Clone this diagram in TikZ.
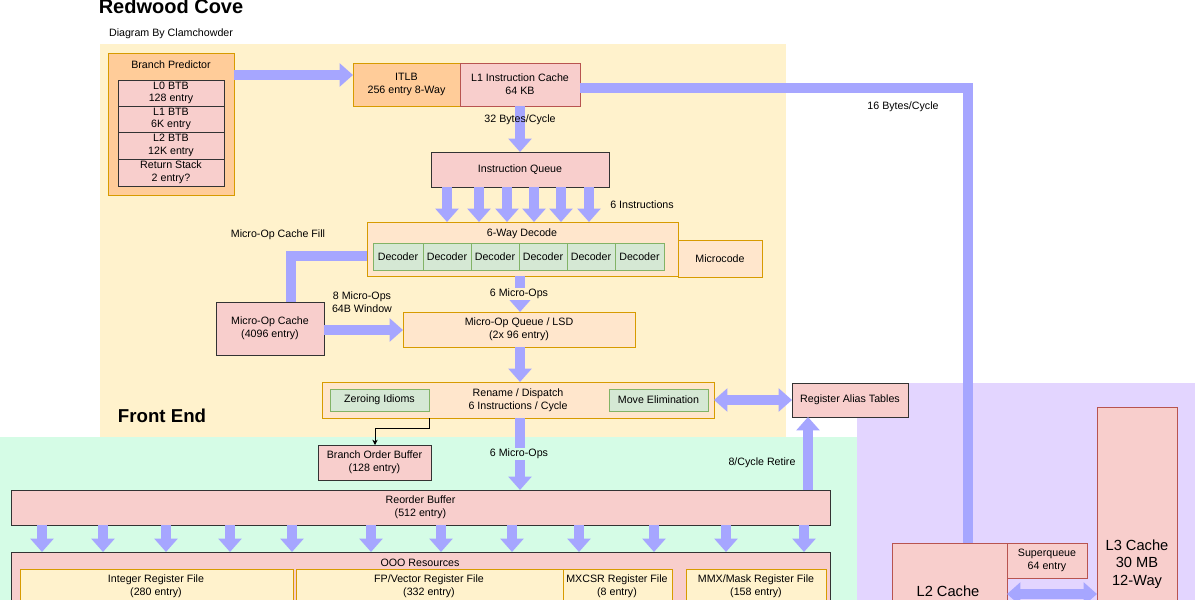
\documentclass[tikz,border=0pt]{standalone}
\usepackage{fontspec}
\setmainfont{Liberation Sans}
\usetikzlibrary{arrows.meta}
\definecolor{ybg}{HTML}{FFF2CC}
\definecolor{gbg}{HTML}{D5FCE6}
\definecolor{pbg}{HTML}{E3D5FF}
\definecolor{pk}{HTML}{F8CECC}
\definecolor{pkd}{HTML}{B85450}
\definecolor{org}{HTML}{FFCC99}
\definecolor{orl}{HTML}{FFE6CC}
\definecolor{ord}{HTML}{D79B00}
\definecolor{grn}{HTML}{D5E8D4}
\definecolor{grd}{HTML}{82B366}
\definecolor{arr}{HTML}{A6A6FF}
\newcommand\bx[7]{\node[#6,minimum width={(#4-#2)*0.75pt},minimum height={(#5-#3)*0.75pt}] (#1) at ({(#2+#4)/2},{(#3+#5)/2}) {#7};}
\begin{document}
\begin{tikzpicture}[x=0.75pt,y=-0.75pt,
  every node/.style={inner sep=0pt,outer sep=0pt,align=center,font=\fontsize{8}{9.5}\selectfont},
  base/.style={draw,line width=0.75pt},
  pink/.style={base,fill=pk,draw=pkd},
  pinkb/.style={base,fill=pk,draw=black!80},
  orng/.style={base,fill=org,draw=ord},
  lor/.style={base,fill=orl,draw=ord},
  yel/.style={base,fill=ybg,draw=ord},
  gr/.style={base,fill=grn,draw=grd},
  fat/.style={arr,line width=7.5pt,-{Triangle[width=17pt,length=10pt]}},
  fatd/.style={arr,line width=7.5pt,{Triangle[width=17pt,length=10pt]}-{Triangle[width=17pt,length=10pt]}},
  fatl/.style={arr,line width=7.5pt},
  lbl/.style={font=\fontsize{8}{9.5}\selectfont}]
\useasboundingbox (0,0) rectangle (1200,600);
\clip (0,0) rectangle (1200,600);
\fill[white] (0,0) rectangle (1200,600);
% backgrounds
\fill[ybg] (100,44) rectangle (786,437);
\fill[gbg] (0,437) rectangle (857,600);
\fill[pbg] (857,383) rectangle (1195,600);
\node[font=\bfseries\fontsize{15}{15}\selectfont] (title) at (171,6) {Redwood Cove};
\node (credit) at (171,34) {Diagram By Clamchowder};
\node[font=\bfseries\fontsize{14}{14}\selectfont] (fe) at (162,416) {Front End};
% branch predictor
\bx{bp}{108}{53}{234}{195}{orng}{}
\node at (171,65) {Branch Predictor};
\bx{l0}{118}{80}{224}{106}{pinkb}{L0 BTB\\128 entry}
\bx{l1}{118}{106}{224}{132}{pinkb}{L1 BTB\\6K entry}
\bx{l2b}{118}{132}{224}{159}{pinkb}{L2 BTB\\12K entry}
\bx{rs}{118}{159}{224}{186}{pinkb}{Return Stack\\2 entry?}
% fetch
\bx{itlb}{353}{63}{460}{106}{orng}{ITLB\\256 entry 8-Way}
\bx{l1i}{460}{63}{580}{106}{pink}{L1 Instruction Cache\\64 KB}
\bx{iq}{431}{152}{609}{187}{pinkb}{Instruction Queue}
\bx{dec}{367}{222}{678}{276}{lor}{}
\node at (522,234) {6-Way Decode};
\bx{d1}{373}{243}{423}{270}{gr}{Decoder}
\bx{d2}{423}{243}{471}{270}{gr}{Decoder}
\bx{d3}{471}{243}{519}{270}{gr}{Decoder}
\bx{d4}{519}{243}{567}{270}{gr}{Decoder}
\bx{d5}{567}{243}{615}{270}{gr}{Decoder}
\bx{d6}{615}{243}{664}{270}{gr}{Decoder}
\bx{mc}{678}{240}{762}{277}{lor}{Microcode}
\bx{uoc}{216}{302}{324}{355}{pinkb}{Micro-Op Cache\\(4096 entry)}
\bx{uoq}{403}{312}{635}{347}{lor}{Micro-Op Queue / LSD\\(2x 96 entry)}
\bx{ren}{322}{382}{714}{418}{lor}{Rename / Dispatch\\6 Instructions / Cycle}
\bx{zi}{330}{389}{429}{411}{gr}{Zeroing Idioms}
\bx{me}{609}{389}{708}{411}{gr}{Move Elimination}
\bx{rat}{792}{383}{908}{417}{pinkb}{Register Alias Tables}
\bx{bob}{318}{445}{431}{480}{pinkb}{Branch Order Buffer\\(128 entry)}
\bx{rob}{11}{490}{830}{525}{pinkb}{Reorder Buffer\\(512 entry)}
\bx{ooo}{11}{552}{830}{640}{pinkb}{}
\node at (420,563) {OOO Resources};
\bx{irf}{20}{569}{293}{620}{yel}{}
\node at (156,586) {Integer Register File\\(280 entry)};
\bx{frf}{296}{569}{563}{620}{yel}{}
\node at (429,586) {FP/Vector Register File\\(332 entry)};
\bx{mx}{563}{569}{672}{620}{yel}{}
\node at (617,586) {MXCSR Register File\\(8 entry)};
\bx{mm}{686}{569}{826}{620}{yel}{}
\node at (756,586) {MMX/Mask Register File\\(158 entry)};
% caches
\bx{l2}{892}{543}{1007}{640}{pink}{}
\node[font=\fontsize{11}{13}\selectfont] at (948,591) {L2 Cache};
\bx{sq}{1007}{543}{1087}{578}{pink}{Superqueue\\64 entry}
\bx{l3}{1097}{407}{1177}{640}{pink}{}
\node[font=\fontsize{11}{13}\selectfont] at (1137,564) {L3 Cache\\30 MB\\12-Way};
% connectors
\coordinate (l2top) at (968,543);
\draw[fatl] (l1i.east|-0,88) -| (l2top);
\node[lbl] at (903,107) {16 Bytes/Cycle};
\draw[fat] (bp.east|-0,75) -- (itlb.west|-0,75);
\draw[fat] (l1i.south-|520,0) -- (iq.north-|520,0);
\node[lbl] at (520,120) {32 Bytes/Cycle};
\foreach \x in {447,479,507,534,561,589} \draw[fat] (iq.south-|\x,0) -- (dec.north-|\x,0);
\node[lbl] at (642,205) {6 Instructions};
\node[lbl] at (278,235) {Micro-Op Cache Fill};
\draw[fatl] (dec.west|-0,256) -| (uoc.north-|291,0);
\node[lbl] at (362,302) {8 Micro-Ops\\64B Window};
\draw[fat] (uoc.east|-0,330) -- (uoq.west|-0,330);
\draw[fat] (dec.south-|520,0) -- (uoq.north-|520,0);
\node[lbl,fill=ybg,inner sep=1pt] at (519,294) {6 Micro-Ops};
\draw[fat] (uoq.south-|520,0) -- (ren.north-|520,0);
\draw[fatd] (ren.east) -- (rat.west|-ren.east);
\draw[-{Stealth[length=4pt,width=4pt]},line width=0.6pt] (ren.south-|429,0) -- (429,428) -| (bob.north-|375,0);
\draw[fat] (ren.south-|520,0) -- (rob.north-|520,0);
\node[lbl,fill=gbg,inner sep=1pt] at (519,454) {6 Micro-Ops};
\draw[fat] (rob.north-|808,0) -- (rat.south-|808,0);
\node[lbl] at (762,463) {8/Cycle Retire};
\foreach \x in {42,103,166,230,292,371,441,512,579,654,726,804} \draw[fat] (rob.south-|\x,0) -- (ooo.north-|\x,0);
\draw[fatd] (l2.east|-0,594) -- (l3.west|-0,594);
\end{tikzpicture}
\end{document}
